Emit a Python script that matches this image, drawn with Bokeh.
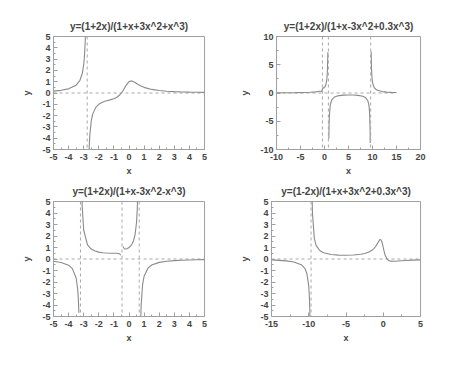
from bokeh.plotting import figure
from bokeh.layouts import column, row
from bokeh.models import FixedTicker, Span, PrintfTickFormatter
from bokeh.embed import file_html
from bokeh.resources import INLINE

# ---------------- data ----------------
titles = ["y=(1+2x)/(1+x+3x^2+x^3)", "y=(1+2x)/(1+x-3x^2+0.3x^3)",
          "y=(1+2x)/(1+x-3x^2-x^3)", "y=(1-2x)/(1+x+3x^2+0.3x^3)"]

# panel 1
p1_left_x = [-5, -4.5, -4, -3.5, -3.25, -3.1, -3, -2.95, -2.9, -2.88]
p1_left_y = [0.1667, 0.236, 0.368, 0.696, 1.125, 1.699, 2.5, 3.235, 4.53, 5.38]
p1_right_x = [-2.72, -2.68, -2.64, -2.6, -2.5, -2.4, -2.2, -2, -1.8, -1.6, -1.4, -1.2, -1,
              -0.8, -0.6, -0.4, -0.2, 0, 0.1, 0.2, 0.4, 0.6, 0.8, 1, 1.5, 2, 2.5, 3, 3.5, 4, 4.5, 5]
p1_right_y = [-12.65, -7.05, -4.93, -3.80, -2.46, -1.848, -1.272, -1.0, -0.842, -0.737, -0.658,
              -0.585, -0.5, -0.373, -0.158, 0.197, 0.658, 1.0, 1.061, 1.054, 0.926, 0.760, 0.614,
              0.5, 0.317, 0.217, 0.158, 0.1207, 0.0951, 0.0769, 0.0635, 0.0534]
p1_poles = [-2.769]

# panel 2
p2_left_x = [-10, -8, -6, -4, -3, -2, -1.5, -1, -0.8, -0.7, -0.6, -0.3, -0.2, -0.1, 0, 0.1,
             0.2, 0.3, 0.4, 0.5, 0.6, 0.7]
p2_left_y = [0.0312, 0.0425, 0.0619, 0.0997, 0.1348, 0.195, 0.242, 0.303, 0.320, 0.314, 0.2685,
             0.948, 0.885, 0.920, 1.0, 1.121, 1.293, 1.541, 1.917, 2.54, 3.76, 7.21]
p2_mid_x = [0.91, 0.95, 1, 1.2, 1.5, 2, 2.5, 3, 4, 5, 6, 7, 8, 8.5, 9, 9.2, 9.3, 9.4, 9.5, 9.53]
p2_mid_y = [-8.10, -5.80, -4.29, -2.12, -1.236, -0.758, -0.568, -0.470, -0.378, -0.349, -0.359,
            -0.416, -0.578, -0.782, -1.329, -1.919, -2.49, -3.60, -6.58, -8.84]
p2_right_x = [9.72, 9.8, 9.9, 10, 10.2, 10.5, 11, 12, 13, 14, 15]
p2_right_y = [7.34, 4.09, 2.613, 1.909, 1.227, 0.785, 0.476, 0.2515, 0.1626, 0.1159, 0.0877]
p2_poles = [-0.428, 0.810, 9.617]

# panel 3
p3_left_x = [-5, -4.5, -4, -3.75, -3.5, -3.4, -3.35, -3.32]
p3_left_y = [-0.1957, -0.2977, -0.538, -0.834, -1.655, -2.608, -3.613, -4.67]
p3_mid1_x = [-3.15, -3.1, -3, -2.75, -2.5, -2.25, -2, -1.75, -1.5, -1.25, -1, -0.8, -0.7, -0.6, -0.55]
p3_mid1_y = [8.01, 4.565, 2.5, 1.236, 0.865, 0.6935, 0.6, 0.546, 0.516, 0.5026, 0.5, 0.497,
             0.484, 0.431, 0.3435]
p3_mid2_x = [-0.4, -0.3, -0.2, -0.1, 0, 0.1, 0.2, 0.3, 0.4, 0.5, 0.55, 0.6]
p3_mid2_y = [1.087, 0.875, 0.872, 0.9185, 1.0, 1.1225, 1.306, 1.595, 2.103, 3.2, 4.41, 7.24]
p3_right_x = [0.75, 0.8, 0.9, 1, 1.25, 1.5, 2, 2.5, 3, 3.5, 4, 4.5, 5]
p3_right_y = [-6.96, -4.11, -2.224, -1.5, -0.797, -0.5246, -0.294, -0.1943, -0.14, -0.1065,
              -0.0841, -0.0683, -0.0567]
p3_poles = [-3.214, -0.461, 0.675]

# panel 4
p4_left_x = [-15, -14, -13, -12, -11, -10.5, -10.25, -10, -9.9, -9.85, -9.8]
p4_left_y = [-0.0882, -0.1168, -0.1645, -0.2567, -0.4968, -0.845, -1.255, -2.333, -3.49, -4.62, -6.78]
p4_right_x = [-9.6, -9.55, -9.5, -9.25, -9, -8.5, -8, -7, -6, -5, -4, -3, -2.5, -2, -1.5, -1.25,
              -1, -0.75, -0.5, -0.4, -0.3, -0.2, -0.1, 0, 0.1, 0.25, 0.5, 0.75, 1, 1.5, 2, 3, 4, 5]
p4_right_y = [8.21, 5.33, 3.97, 1.773, 1.166, 0.72, 0.541, 0.394, 0.340, 0.328, 0.349, 0.414,
              0.478, 0.581, 0.764, 0.909, 1.111, 1.380, 1.649, 1.697, 1.663, 1.526, 1.291, 1.0,
              0.708, 0.3467, 0.0, -0.1403, -0.1887, -0.1949, -0.1724, -0.1279, -0.0970, -0.0759]
p4_poles = [-9.69]

ticks_pm5 = [-5, -4, -3, -2, -1, 0, 1, 2, 3, 4, 5]
ticks_x2 = [-10, -5, 0, 5, 10, 15, 20]
ticks_y2 = [-10, -5, 0, 5, 10]
ticks_x4 = [-15, -10, -5, 0, 5]

# ---------------- styling ----------------
FONT = "Liberation Sans"
CURVE = "#8a8a8a"
DASH = "#a8a8a8"
AXIS = "#a0a0a0"


def halves(t):
    step = t[1] - t[0]
    return [v + step / 2 for v in t[:-1]]


def panel(title, xr, yr, xt, yt, branches, poles, width, height, bl, br, bt, bb, tstand):
    p = figure(width=width, height=height, x_range=xr, y_range=yr,
               output_backend="svg", toolbar_location=None,
               min_border_left=bl, min_border_right=br, min_border_top=bt, min_border_bottom=bb)
    p.title.text = title
    p.title.align = "center"
    p.title.text_font = FONT
    p.title.text_font_style = "bold"
    p.title.text_font_size = "10px"
    p.title.standoff = tstand
    p.outline_line_color = AXIS
    p.grid.visible = False
    p.xaxis.ticker = FixedTicker(ticks=xt, minor_ticks=halves(xt))
    p.yaxis.ticker = FixedTicker(ticks=yt, minor_ticks=halves(yt))
    p.xaxis.formatter = PrintfTickFormatter(format="%d")
    p.yaxis.formatter = PrintfTickFormatter(format="%d")
    p.xaxis.axis_label = "x"
    p.yaxis.axis_label = "y"
    for ax in (p.xaxis, p.yaxis):
        ax.axis_line_color = AXIS
        ax.major_tick_line_color = AXIS
        ax.minor_tick_line_color = AXIS
        ax.major_tick_in = 4
        ax.major_tick_out = 0
        ax.minor_tick_in = 2
        ax.minor_tick_out = 0
        ax.major_label_text_font = FONT
        ax.major_label_text_font_style = "bold"
        ax.major_label_text_font_size = "9px"
        ax.axis_label_text_font = FONT
        ax.axis_label_text_font_style = "bold"
        ax.axis_label_text_font_size = "9px"
    p.xaxis.major_label_standoff = 4
    p.yaxis.major_label_standoff = 3
    p.xaxis.axis_label_standoff = 3
    p.yaxis.axis_label_standoff = 7
    xs_all = [v for bx, by in branches for v in bx]
    p.line([min(xs_all), max(xs_all)], [0, 0], line_color=DASH, line_dash="3 3", line_width=1)
    for pl in poles:
        p.add_layout(Span(location=pl, dimension="height", line_color=DASH,
                          line_dash="3 3", line_width=1))
    for bx, by in branches:
        p.line(bx, by, line_color=CURVE, line_width=1.1)
    return p


W1, W2 = 237, 237
H1, H2 = 178, 168
f1 = panel(titles[0], (-5, 5), (-5, 5), ticks_pm5, ticks_pm5,
           [(p1_left_x, p1_left_y), (p1_right_x, p1_right_y)], p1_poles,
           W1, H1, 53, 33, 36, 27, 9)
f2 = panel(titles[1], (-10, 20), (-10, 10), ticks_x2, ticks_y2,
           [(p2_left_x, p2_left_y), (p2_mid_x, p2_mid_y), (p2_right_x, p2_right_y)], p2_poles,
           W2, H1, 33, 54, 36, 27, 9)
f3 = panel(titles[2], (-5, 5), (-5, 5), ticks_pm5, ticks_pm5,
           [(p3_left_x, p3_left_y), (p3_mid1_x, p3_mid1_y), (p3_mid2_x, p3_mid2_y),
            (p3_right_x, p3_right_y)], p3_poles,
           W1, H2, 53, 33, 22, 30, 10)
f4 = panel(titles[3], (-15, 5), (-5, 5), ticks_x4, ticks_pm5,
           [(p4_left_x, p4_left_y), (p4_right_x, p4_right_y)], p4_poles,
           W2, H2, 33, 54, 22, 30, 10)

layout = column(row(f1, f2, spacing=0), row(f3, f4, spacing=0), spacing=0)
open("out.html", "w").write(file_html(layout, INLINE))
